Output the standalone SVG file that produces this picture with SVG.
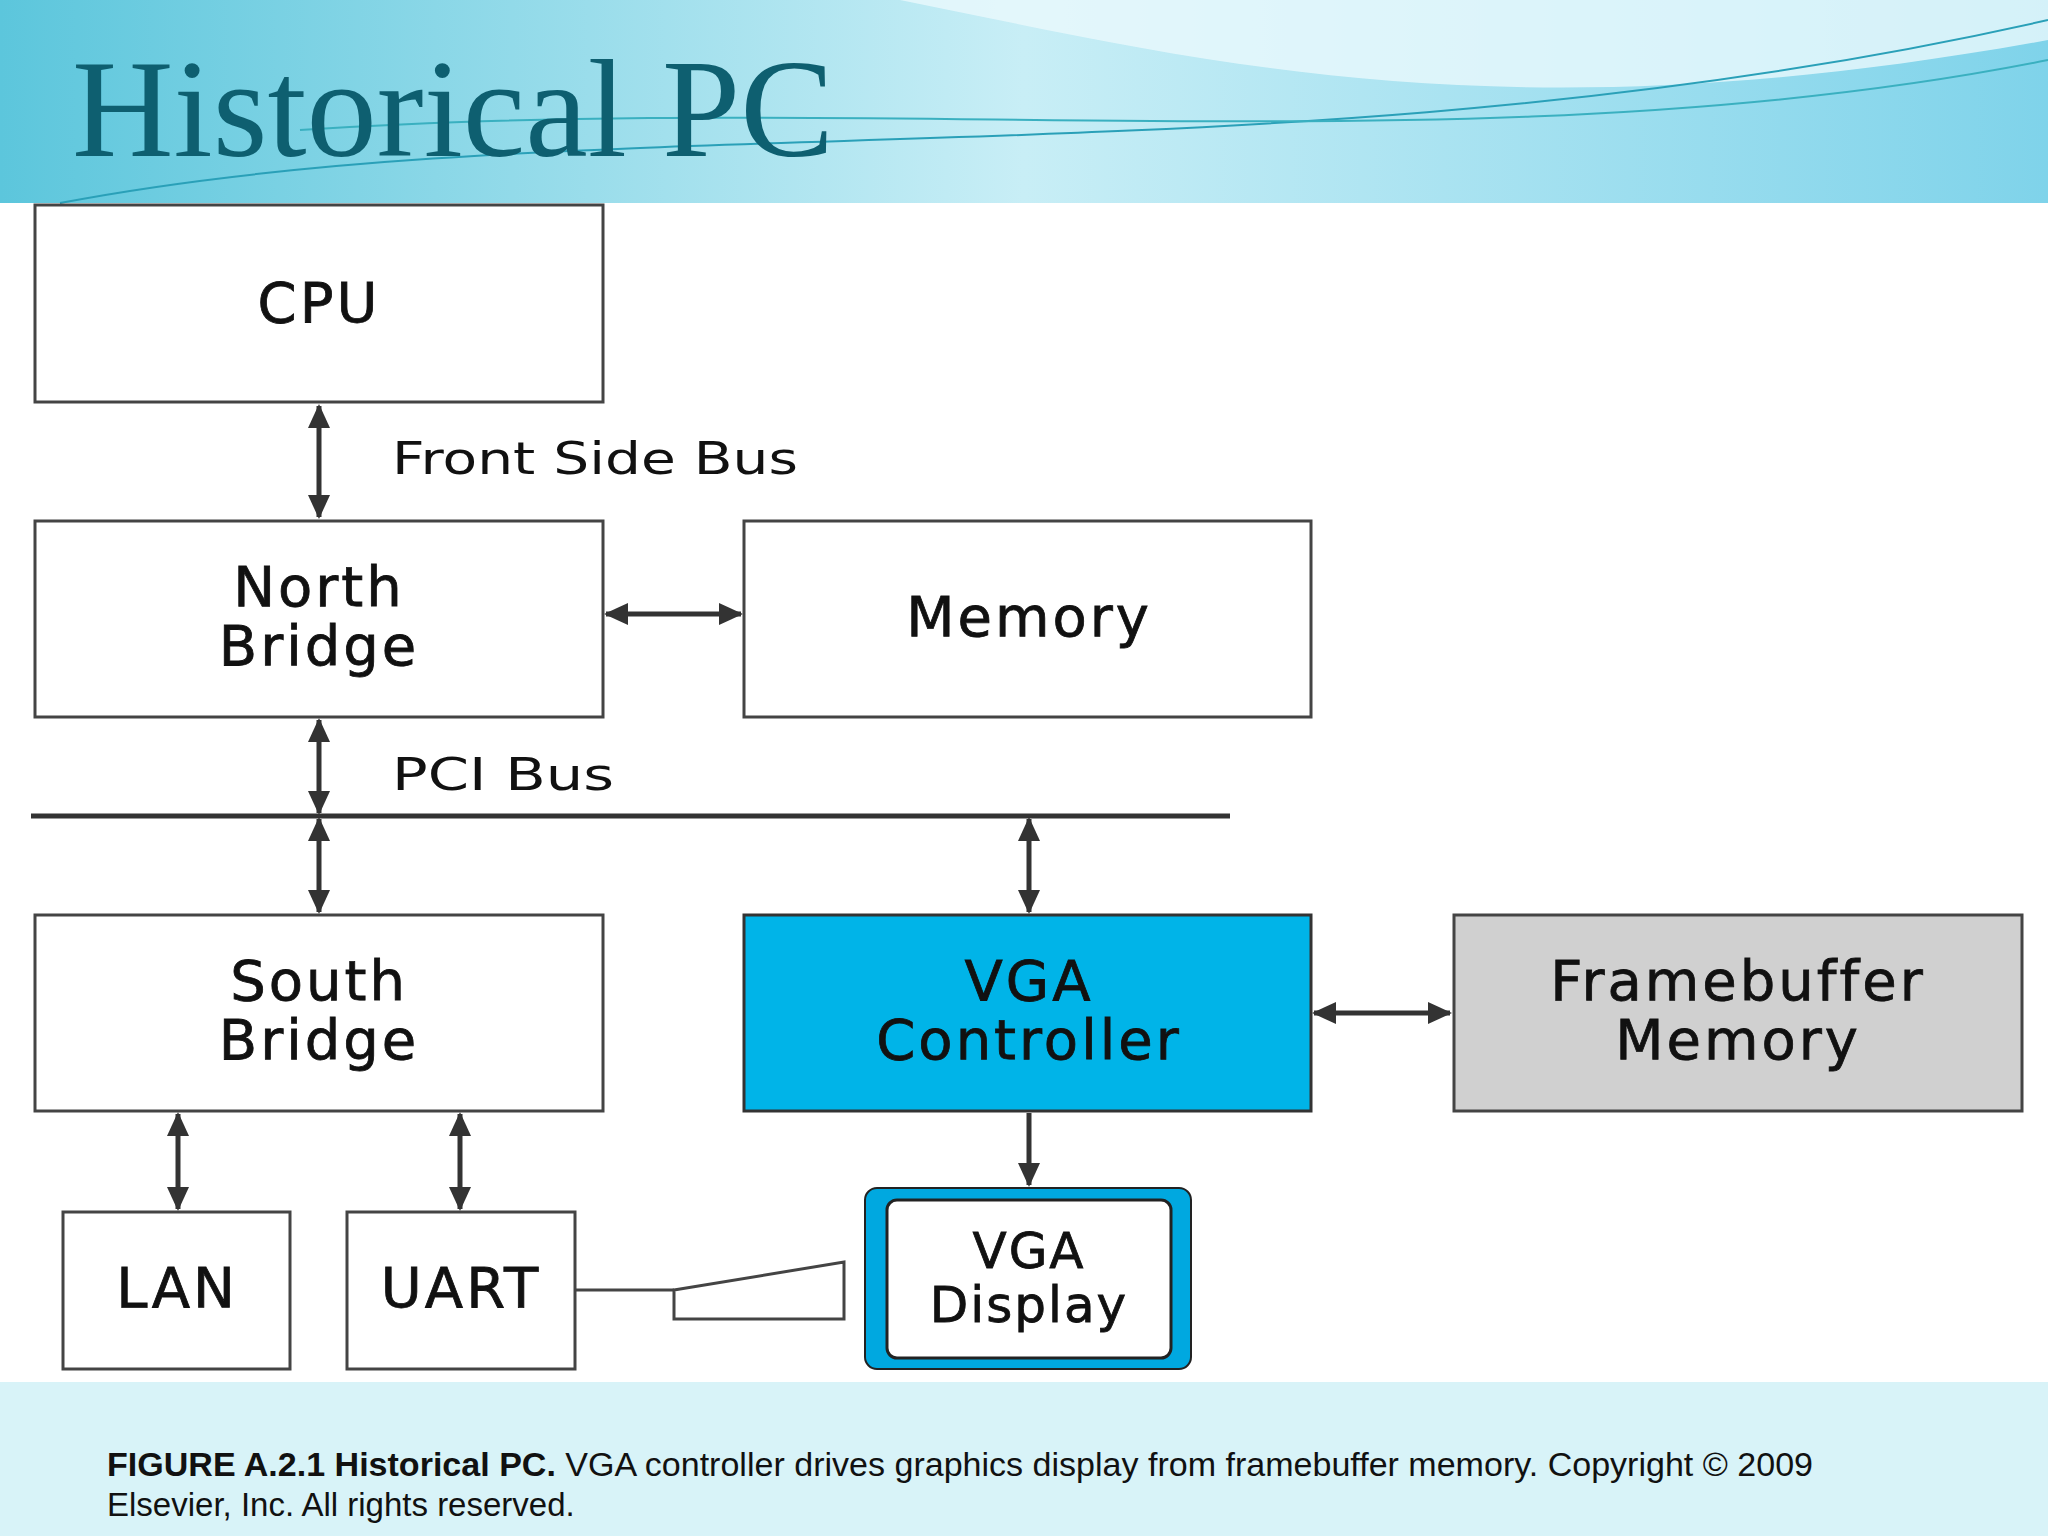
<svg xmlns="http://www.w3.org/2000/svg" width="2048" height="1536" viewBox="0 0 2048 1536">
<defs>
<linearGradient id="hdr" x1="0" y1="0" x2="1" y2="0">
<stop offset="0" stop-color="#5cc6dc"/><stop offset="0.5" stop-color="#c8eef6"/><stop offset="1" stop-color="#7fd3ea"/>
</linearGradient>
<marker id="ah" viewBox="0 0 24 24" refX="22" refY="12" markerWidth="24" markerHeight="24" markerUnits="userSpaceOnUse" orient="auto-start-reverse">
<path d="M0,1 L24,12 L0,23 Z" fill="#333"/>
</marker>
<style>
.box{fill:#fff;stroke:#444;stroke-width:3}
.t{font-family:"DejaVu Sans",Verdana,sans-serif;font-size:56px;letter-spacing:3px;fill:#111;stroke:#111;stroke-width:0.8;text-anchor:middle}
.lbl{font-family:"DejaVu Sans",Verdana,sans-serif;font-size:44px;fill:#111}
.c{stroke:#333;stroke-width:5;fill:none}
</style>
</defs>
<rect width="2048" height="1536" fill="#fff"/>
<rect width="2048" height="203" fill="url(#hdr)"/>
<path d="M900,0 C1200,60 1500,140 2048,40 L2048,0 Z" fill="#eaf9fc" opacity="0.8"/>
<path d="M60,203 C600,100 1300,190 2048,20" stroke="#2aa0b8" stroke-width="2" fill="none"/>
<path d="M300,130 C900,90 1500,170 2048,60" stroke="#3ab0c0" stroke-width="2" fill="none"/>
<text x="72" y="156" font-family="'Liberation Serif','Times New Roman',serif" font-size="140" fill="#0e5f70" textLength="762" lengthAdjust="spacingAndGlyphs">Historical PC</text>
<rect x="0" y="1382" width="2048" height="154" fill="#d8f3f8"/>
<text font-family="'Liberation Sans',Arial,sans-serif" font-size="33" fill="#111"><tspan x="107" y="1476" textLength="1706" lengthAdjust="spacingAndGlyphs"><tspan font-weight="bold">FIGURE A.2.1 Historical PC.</tspan> VGA controller drives graphics display from framebuffer memory. Copyright © 2009</tspan><tspan x="107" y="1516">Elsevier, Inc. All rights reserved.</tspan></text>
<g id="connectors">
<line class="c" x1="319" y1="406" x2="319" y2="517" marker-start="url(#ah)" marker-end="url(#ah)"/>
<line class="c" x1="606" y1="614" x2="741" y2="614" marker-start="url(#ah)" marker-end="url(#ah)"/>
<line class="c" x1="319" y1="720" x2="319" y2="813" marker-start="url(#ah)" marker-end="url(#ah)"/>
<line stroke="#333" stroke-width="5" x1="31" y1="816" x2="1230" y2="816"/>
<line class="c" x1="319" y1="819" x2="319" y2="912" marker-start="url(#ah)" marker-end="url(#ah)"/>
<line class="c" x1="1029" y1="819" x2="1029" y2="912" marker-start="url(#ah)" marker-end="url(#ah)"/>
<line class="c" x1="1314" y1="1013" x2="1450" y2="1013" marker-start="url(#ah)" marker-end="url(#ah)"/>
<line class="c" x1="1029" y1="1113" x2="1029" y2="1185" marker-end="url(#ah)"/>
<line class="c" x1="178" y1="1114" x2="178" y2="1209" marker-start="url(#ah)" marker-end="url(#ah)"/>
<line class="c" x1="460" y1="1114" x2="460" y2="1209" marker-start="url(#ah)" marker-end="url(#ah)"/>
<line stroke="#444" stroke-width="3" x1="575" y1="1290" x2="674" y2="1290"/>
<polygon points="674,1290 844,1262 844,1319 674,1319" fill="#fff" stroke="#444" stroke-width="3"/>
</g>
<text class="lbl" x="392" y="474" textLength="406" lengthAdjust="spacingAndGlyphs">Front Side Bus</text>
<text class="lbl" x="392" y="790" textLength="222" lengthAdjust="spacingAndGlyphs">PCI Bus</text>
<g id="cpu"><rect class="box" x="35" y="205" width="568" height="197"/><text class="t" x="319" y="322">CPU</text></g>
<g id="north"><rect class="box" x="35" y="521" width="568" height="196"/><text class="t" x="319" y="606">North</text><text class="t" x="319" y="665">Bridge</text></g>
<g id="memory"><rect class="box" x="744" y="521" width="567" height="196"/><text class="t" x="1029" y="636">Memory</text></g>
<g id="south"><rect class="box" x="35" y="915" width="568" height="196"/><text class="t" x="319" y="1000">South</text><text class="t" x="319" y="1059">Bridge</text></g>
<g id="vga"><rect x="744" y="915" width="567" height="196" fill="#00b4e8" stroke="#333" stroke-width="3"/><text class="t" x="1029" y="1000">VGA</text><text class="t" x="1029" y="1059">Controller</text></g>
<g id="fb"><rect x="1454" y="915" width="568" height="196" fill="#d0d0d0" stroke="#444" stroke-width="3"/><text class="t" x="1738" y="1000">Framebuffer</text><text class="t" x="1738" y="1059">Memory</text></g>
<g id="lan"><rect class="box" x="63" y="1212" width="227" height="157"/><text class="t" x="177" y="1307">LAN</text></g>
<g id="uart"><rect class="box" x="347" y="1212" width="228" height="157"/><text class="t" x="461" y="1307">UART</text></g>
<g id="display"><rect x="865" y="1188" width="326" height="181" rx="12" fill="#00a8e0" stroke="#222" stroke-width="2"/><rect x="887" y="1200" width="284" height="158" rx="10" fill="#fff" stroke="#222" stroke-width="3"/><text class="t" x="1029" y="1268" style="font-size:50px;letter-spacing:2px">VGA</text><text class="t" x="1029" y="1322" style="font-size:50px;letter-spacing:2px">Display</text></g>
</svg>
